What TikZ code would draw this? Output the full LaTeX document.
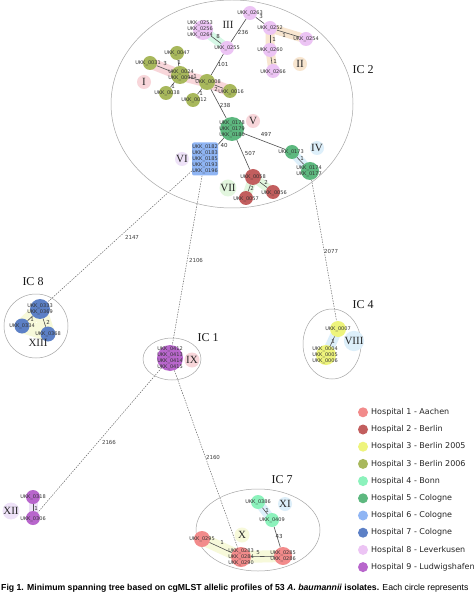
\documentclass[tikz,border=0pt]{standalone}
\usepackage{fontspec}
\setmainfont{Liberation Serif}
\newfontfamily\dejavu{DejaVu Sans}
\newfontfamily\arialf{Liberation Sans}
\usetikzlibrary{shapes.geometric}
\pgfdeclarelayer{paper}\pgfdeclarelayer{halo}\pgfdeclarelayer{edges}
\pgfsetlayers{paper,halo,edges,main}
\definecolor{hA}{HTML}{F28B8B}
\definecolor{hB}{HTML}{C25E5E}
\definecolor{hC}{HTML}{EEF47C}
\definecolor{hD}{HTML}{A8B85C}
\definecolor{hE}{HTML}{8CF2BC}
\definecolor{hF}{HTML}{5DB87F}
\definecolor{hG}{HTML}{8FB5F4}
\definecolor{hH}{HTML}{5C80C6}
\definecolor{hI}{HTML}{ECC4F4}
\definecolor{hJ}{HTML}{B866CC}
\definecolor{edgec}{HTML}{505050}
\definecolor{haloPink}{HTML}{F8D6DA}
\definecolor{haloPeach}{HTML}{F8E6D0}
\definecolor{haloMint}{HTML}{D6F8E6}
\definecolor{haloBlue}{HTML}{DDEFFA}
\definecolor{haloLav}{HTML}{EEE2F8}
\definecolor{haloYel}{HTML}{F7F9DA}
\definecolor{haloGreen}{HTML}{E2F6DE}
\tikzset{
  iso/.style={circle, inner sep=0pt, minimum size=14pt, draw=none},
  ukk/.style={font=\dejavu\fontsize{5}{5.9}\selectfont, text=black!80, inner sep=0pt, align=center},
  elab/.style={font=\dejavu\fontsize{5.5}{6}\selectfont, text=black!80, inner sep=0.5pt},
  dlab/.style={font=\dejavu\fontsize{5.5}{6}\selectfont, text=black!75, inner sep=0.5pt},
  clab/.style={font=\fontsize{11}{11}\selectfont, text=black!85, inner sep=0pt},
  cbg/.style={circle, minimum size=14pt, inner sep=0pt, fill=#1},
  iclab/.style={font=\fontsize{12}{12}\selectfont, text=black!90, inner sep=0pt},
  icell/.style={ellipse, draw=black!35, line width=0.5pt, inner sep=0pt},
  halo/.style={line width=9pt, line cap=round, line join=round, draw=#1},
  tree/.style={draw=edgec, line width=0.6pt},
  far/.style={draw=black!60, line width=0.5pt, dash pattern=on 1.4pt off 1.2pt},
  legdot/.style={circle, inner sep=0pt, minimum size=10pt, fill=#1},
  legtxt/.style={font=\dejavu\fontsize{8}{9}\selectfont, text=black!85, anchor=west, inner sep=0pt}
}
\begin{document}
\begin{tikzpicture}[x=1pt,y=-1pt]
\useasboundingbox (0,0) rectangle (474,593);
\clip (0,0) rectangle (474,593);
\begin{pgfonlayer}{paper}
\fill[white] (0,0) rectangle (474,593);
\end{pgfonlayer}

% ---------- cluster ellipses ----------
\node[icell, minimum width=242pt, minimum height=208pt] (ic2) at (232,104) {};
\node[icell, minimum width=64pt, minimum height=64pt] (ic8) at (36,326) {};
\node[icell, minimum width=58pt, minimum height=42pt] (ic1) at (172,359) {};
\node[icell, minimum width=58pt, minimum height=70pt] (ic4) at (332,344) {};
\node[icell, minimum width=124pt, minimum height=82pt] (ic7) at (258,530) {};
\node[iclab] (tic2) at (363,70) {IC 2};
\node[iclab] (tic8) at (33,282) {IC 8};
\node[iclab] (tic1) at (208,338) {IC 1};
\node[iclab] (tic4) at (363,305) {IC 4};
\node[iclab] (tic7) at (282,480) {IC 7};

% ---------- IC 2 nodes ----------
\node[iso, fill=hI] (n263) at (250,13) {};
\node[iso, fill=hI] (n252) at (270,28) {};
\node[iso, fill=hI] (n254) at (306,39) {};
\node[iso, fill=hI] (n260) at (270,50) {};
\node[iso, fill=hI] (n266) at (273,71) {};
\node[iso, fill=hI] (n255) at (227,48) {};
\node[iso, fill=hI, minimum size=20pt] (n253) at (203,30) {};
\node[iso, fill=hD] (n047) at (177,53) {};
\node[iso, fill=hD] (n031) at (150,63) {};
\node[iso, fill=hD, minimum size=18pt] (n024) at (180,75) {};
\node[iso, fill=hD] (n038) at (166,93) {};
\node[iso, fill=hD, minimum size=16pt] (n008) at (207,82) {};
\node[iso, fill=hD] (n016) at (230,91) {};
\node[iso, fill=hD] (n012) at (193,100) {};
\node[iso, fill=hF, minimum size=24pt] (n178) at (232,129) {};
\node[rectangle, fill=hG, minimum width=26pt, minimum height=33pt, rounded corners=2pt, inner sep=0pt] (n182) at (205,159) {};
\node[iso, fill=hB, minimum size=16pt] (n058) at (253,177) {};
\node[iso, fill=hB] (n056) at (273,192) {};
\node[iso, fill=hB] (n057) at (246,198) {};
\node[iso, fill=hF] (n173) at (292,152) {};
\node[iso, fill=hF, minimum size=18pt] (n174) at (310,171) {};

\node[ukk] (t263) at (250,13) {UKK\_0263};
\node[ukk] (t252) at (270,28) {UKK\_0252};
\node[ukk] (t254) at (306,39) {UKK\_0254};
\node[ukk] (t260) at (270,50) {UKK\_0260};
\node[ukk] (t266) at (273,72) {UKK\_0266};
\node[ukk] (t255) at (227,48) {UKK\_0255};
\node[ukk] (t253) at (200,29) {UKK\_0253\\UKK\_0256\\UKK\_0264};
\node[ukk] (t047) at (177,53) {UKK\_0047};
\node[ukk] (t031) at (148,63) {UKK\_0031};
\node[ukk] (t024) at (181,75) {UKK\_0024\\UKK\_0098};
\node[ukk] (t038) at (167,93) {UKK\_0038};
\node[ukk] (t008) at (208,82) {UKK\_0008};
\node[ukk] (t016) at (231,92) {UKK\_0016};
\node[ukk] (t012) at (194,100) {UKK\_0012};
\node[ukk] (t178) at (232,129) {UKK\_0178\\UKK\_0179\\UKK\_0180};
\node[ukk] (t182) at (205,159) {UKK\_0182\\UKK\_0183\\UKK\_0185\\UKK\_0193\\UKK\_0196};
\node[ukk] (t058) at (253,177) {UKK\_0058};
\node[ukk] (t056) at (274,193) {UKK\_0056};
\node[ukk] (t057) at (246,199) {UKK\_0057};
\node[ukk] (t173) at (291,152) {UKK\_0173};
\node[ukk] (t174) at (309,171) {UKK\_0174\\UKK\_0177};

% cluster labels IC2
\node[clab, cbg=haloPink] (cI) at (144,82) {I};
\node[clab, cbg=haloPeach] (cII) at (300,64) {II};
\node[clab] (cIII) at (228,25) {III};
\node[clab, cbg=haloBlue] (cIV) at (317,148) {IV};
\node[clab, cbg=haloPink] (cV) at (253,121) {V};
\node[clab, cbg=haloLav] (cVI) at (182,159) {VI};
\node[clab, cbg=haloGreen] (cVII) at (228,188) {VII};

% edge labels IC2
\node[elab] (e1) at (261,17) {3};
\node[elab] (e2) at (284,35) {1};
\node[elab] (e3) at (274,39) {1};
\node[elab] (e4) at (275,61) {1};
\node[elab] (e5) at (243,33) {236};
\node[elab] (e6) at (218,37) {8};
\node[elab] (e7) at (223,65) {101};
\node[elab] (e8) at (179,62) {1};
\node[elab] (e9) at (165,64) {3};
\node[elab] (e10) at (195,76) {1};
\node[elab] (e11) at (173,86) {1};
\node[elab] (e12) at (216,89) {2};
\node[elab] (e13) at (201,93) {1};
\node[elab] (e14) at (225,106) {238};
\node[elab] (e15) at (224,145) {40};
\node[elab] (e16) at (266,135) {497};
\node[elab] (e17) at (250,153) {507};
\node[elab] (e18) at (302,158) {1};
\node[elab] (e19) at (266,182) {2};
\node[elab] (e20) at (252,188) {2};

% ---------- IC 8 ----------
\node[iso, fill=hH, minimum size=20pt] (n333) at (40,309) {};
\node[iso, fill=hH, minimum size=15pt] (n334) at (22,326) {};
\node[iso, fill=hH, minimum size=15pt] (n368) at (48,334) {};
\node[ukk] (t333) at (40,309) {UKK\_0333\\UKK\_0369};
\node[ukk] (t334) at (22,326) {UKK\_0334};
\node[ukk] (t368) at (48,334) {UKK\_0368};
\node[elab] (e21) at (32,319) {1};
\node[elab] (e22) at (48,322) {2};
\node[clab] (cXIII) at (38,343) {XIII};

% ---------- IC 1 ----------
\node[clab, cbg=haloPink, minimum size=15pt] (cIX) at (192,360) {IX};
\node[iso, fill=hJ, minimum size=26pt] (n412) at (170,358) {};
\node[ukk] (t412) at (170,358) {UKK\_0412\\UKK\_0413\\UKK\_0414\\UKK\_0415};

% ---------- IC 4 ----------
\node[clab, cbg=haloBlue, minimum size=15pt] (cVIII) at (354,341) {VIII};
\node[iso, fill=hC, minimum size=16pt] (n007) at (338,329) {};
\node[iso, fill=hC, minimum size=20pt] (n004) at (326,355) {};
\node[ukk] (t007) at (338,329) {UKK\_0007};
\node[ukk] (t004) at (325,355) {UKK\_0004\\UKK\_0005\\UKK\_0006};
\node[elab] (e23) at (333,341) {1};

% ---------- XII ----------
\node[clab, cbg=haloLav, minimum size=15pt] (cXII) at (11,511) {XII};
\node[iso, fill=hJ] (n318) at (33,497) {};
\node[iso, fill=hJ] (n306) at (33,518) {};
\node[ukk] (t318) at (33,497) {UKK\_0318};
\node[ukk] (t306) at (33,519) {UKK\_0306};
\node[elab] (e24) at (36,508) {1};

% ---------- IC 7 ----------
\node[clab, cbg=haloBlue] (cXI) at (285,504) {XI};
\node[clab, cbg=haloYel, minimum size=15pt] (cX) at (242,535) {X};
\node[iso, fill=hE] (n386) at (258,502) {};
\node[iso, fill=hE] (n409) at (272,520) {};
\node[iso, fill=hA, minimum size=16pt] (n295) at (202,539) {};
\node[iso, fill=hA, minimum size=20pt] (n283) at (241,557) {};
\node[iso, fill=hA, minimum size=18pt] (n285) at (283,556) {};
\node[ukk] (t386) at (258,502) {UKK\_0386};
\node[ukk] (t409) at (272,520) {UKK\_0409};
\node[ukk] (t295) at (202,539) {UKK\_0295};
\node[ukk] (t283) at (241,557) {UKK\_0283\\UKK\_0284\\UKK\_0290};
\node[ukk] (t285) at (283,556) {UKK\_0285\\UKK\_0286};
\node[elab] (e25) at (267,510) {1};
\node[elab] (e26) at (279,536) {43};
\node[elab] (e27) at (222,542) {1};
\node[elab] (e28) at (258,553) {5};

% ---------- distance labels ----------
\node[dlab] (d1) at (132,237) {2147};
\node[dlab] (d2) at (196,260) {2106};
\node[dlab] (d3) at (331,251) {2077};
\node[dlab] (d4) at (109,442) {2166};
\node[dlab] (d5) at (213,457) {2160};

% ---------- halos ----------
\begin{pgfonlayer}{halo}
\draw[halo=haloPink, line width=11pt] (n031.center) -- (n024.center) -- (n008.center) -- (n016.center);
\draw[halo=haloPeach] (n254.center) -- (n252.center) -- (n260.center) -- (n266.center);
\draw[halo=haloMint] (n253.center) -- (n255.center);
\draw[halo=haloBlue] (n173.center) -- (n174.center);
\draw[halo=haloGreen] (n057.center) -- (n058.center) -- (n056.center);
\draw[halo=haloYel, line width=14pt] (n333.center) -- (n334.center) -- (n368.center) -- cycle;
\draw[halo=haloBlue, line width=10pt] (n007.center) -- (n004.center);
\draw[halo=haloLav] (n318.center) -- (n306.center);
\draw[halo=haloBlue] (n386.center) -- (n409.center);
\draw[halo=haloYel, line width=12pt] (n295.center) -- (n283.center) -- (n285.center);
\end{pgfonlayer}

% ---------- edges ----------
\begin{pgfonlayer}{edges}
\draw[tree] (n263) -- (n252);
\draw[tree] (n252) -- (n254);
\draw[tree] (n252) -- (n260);
\draw[tree] (n260) -- (n266);
\draw[tree] (n263) -- (n255);
\draw[tree] (n253) -- (n255);
\draw[tree] (n255) -- (n008);
\draw[tree] (n047) -- (n024);
\draw[tree] (n031) -- (n024);
\draw[tree] (n024) -- (n008);
\draw[tree] (n024) -- (n038);
\draw[tree] (n008) -- (n016);
\draw[tree] (n008) -- (n012);
\draw[tree] (n008) -- (n178);
\draw[tree] (n178) -- (n182);
\draw[tree] (n178) -- (n173);
\draw[tree] (n178) -- (n058);
\draw[tree] (n173) -- (n174);
\draw[tree] (n058) -- (n056);
\draw[tree] (n058) -- (n057);
\draw[tree] (n333) -- (n334);
\draw[tree] (n333) -- (n368);
\draw[tree] (n007) -- (n004);
\draw[tree] (n318) -- (n306);
\draw[tree] (n386) -- (n409);
\draw[tree] (n409) -- (n285);
\draw[tree] (n295) -- (n283);
\draw[tree] (n283) -- (n285);
\draw[far] (n182) -- (n333);
\draw[far] (n182) -- (n412);
\draw[far] (n174) -- (n007);
\draw[far] (n412) -- (n306);
\draw[far] (n412) -- (n283);
\end{pgfonlayer}

% ---------- legend ----------
\foreach \c/\t [count=\i from 0] in {hA/Hospital 1 - Aachen, hB/Hospital 2 - Berlin, hC/Hospital 3 - Berlin 2005, hD/Hospital 3 - Berlin 2006, hE/Hospital 4 - Bonn, hF/Hospital 5 - Cologne, hG/Hospital 6 - Cologne, hH/Hospital 7 - Cologne, hI/Hospital 8 - Leverkusen, hJ/Hospital 9 - Ludwigshafen}{
  \node[legdot=\c] (ld\i) at (363,{412.3+17.2*\i}) {};
  \node[legtxt] (lt\i) at (371,{412.3+17.2*\i}) {\t};
}

% ---------- caption ----------
\node[anchor=base west, inner sep=0pt, font=\arialf\fontsize{8.7}{9}\selectfont] (cap) at (1,590)
  {\textbf{Fig 1. Minimum spanning tree based on cgMLST allelic profiles of 53 \textit{A. baumannii} isolates.} Each circle represents};
\end{tikzpicture}
\end{document}
